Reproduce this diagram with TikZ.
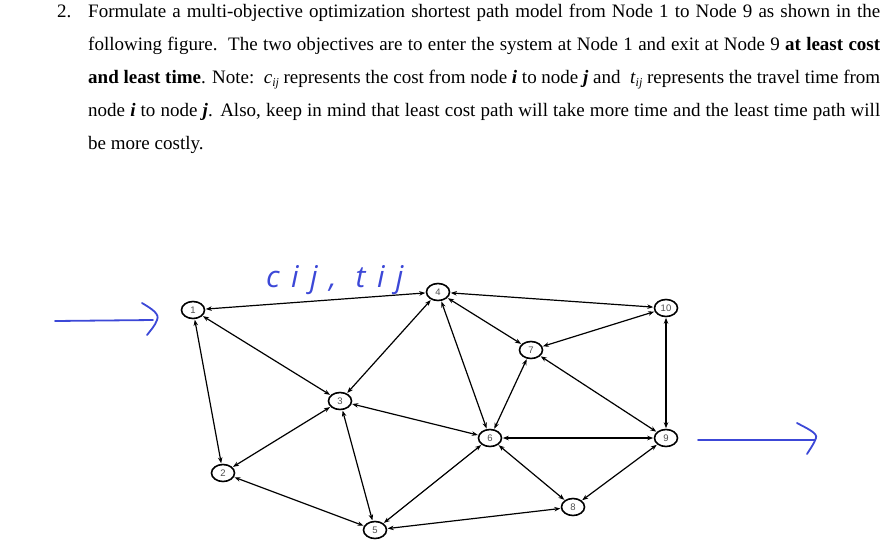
\documentclass[tikz,border=0pt]{standalone}
\usepackage{fontspec}
\setmainfont{Liberation Serif}
\newfontfamily\handfont[LetterSpace=38]{Open Sans}
\newfontfamily\lblfont{Liberation Sans}
\usetikzlibrary{shapes.geometric,arrows.meta}
\definecolor{ink}{RGB}{60,72,215}
\definecolor{lblgray}{RGB}{80,80,80}
\newcommand{\subij}[1]{\textit{#1}\raisebox{-0.35ex}{\fontsize{12}{12}\selectfont\textit{ij}}}
\tikzset{
  vnode/.style={ellipse, draw=black, line width=1.6pt, minimum width=23pt, minimum height=17pt,
    inner sep=0pt, fill=white, font=\lblfont\fontsize{9.5}{9.5}\selectfont, text=lblgray},
  link/.style={line width=1.2pt, {Stealth[length=6pt,width=4.5pt]}-{Stealth[length=6pt,width=4.5pt]}, shorten <=0.5pt, shorten >=0.5pt},
  hand/.style={draw=ink, line width=1.8pt, line cap=round, line join=round},
  txt/.style={anchor=base west, inner sep=0pt, font=\fontsize{19}{22}\selectfont}
}
\begin{document}
\begin{tikzpicture}[x=1pt,y=-1pt]
\useasboundingbox (0,0) rectangle (893,549);
% text
\node[txt] (num) at (57,17) {2.};
\node[txt] (l1) at (88,17) {\hbox to 792pt{Formulate a multi-objective optimization shortest path model from Node 1 to Node 9 as shown in the}};
\node[txt] (l2) at (88,50) {\hbox to 792pt{following figure.\ \ The two objectives are to enter the system at Node 1 and exit at Node 9 \textbf{at least cost}}};
\node[txt] (l3) at (88,83) {\hbox to 792pt{\textbf{and least time}. Note:\ \ \subij{c} represents the cost from node \textbf{\textit{i}} to node \textbf{\textit{j}} and\ \ \subij{t} represents the travel time from}};
\node[txt] (l4) at (88,116) {\hbox to 792pt{node \textbf{\textit{i}} to node \textbf{\textit{j}}. Also, keep in mind that least cost path will take more time and the least time path will}};
\node[txt] (l5) at (88,149) {be more costly.};
% nodes
\node[vnode] (n1) at (193,310) {1};
\node[vnode] (n4) at (438,292) {4};
\node[vnode] (n10) at (666,308) {10};
\node[vnode] (n7) at (531,350) {7};
\node[vnode] (n3) at (340,401) {3};
\node[vnode] (n6) at (490,438) {6};
\node[vnode] (n9) at (666,438) {9};
\node[vnode] (n2) at (223,473) {2};
\node[vnode] (n8) at (573,507) {8};
\node[vnode] (n5) at (375,530) {5};
% links
\foreach \a/\b in {n1/n4, n1/n3, n1/n2, n4/n3, n4/n10, n4/n7, n4/n6, n10/n7, n10/n9, n7/n6, n7/n9,
  n3/n2, n3/n6, n3/n5, n6/n9, n6/n5, n6/n8, n2/n5, n5/n8, n8/n9}
  \draw[link] (\a) -- (\b);
% handwriting
\node[anchor=base west, inner sep=0pt, text=ink, font=\handfont\itshape\fontsize{30}{30}\selectfont] (hw) at (266,287) {cij, tij};
\coordinate (a1s) at (55,321);
\coordinate (a1e) at (153,320);
\draw[hand] (a1s) -- (a1e);
\draw[hand] (142,303) .. controls (152,309) and (160,314) .. (157,320) .. controls (155,326) and (150,331) .. (147,335);
\coordinate (a2s) at (698,440);
\coordinate (a2e) at (815,440);
\draw[hand] (a2s) -- (a2e);
\draw[hand] (797,423) .. controls (806,428) and (818,433) .. (816,438) .. controls (814,444) and (810,449) .. (807,454);
\end{tikzpicture}
\end{document}
